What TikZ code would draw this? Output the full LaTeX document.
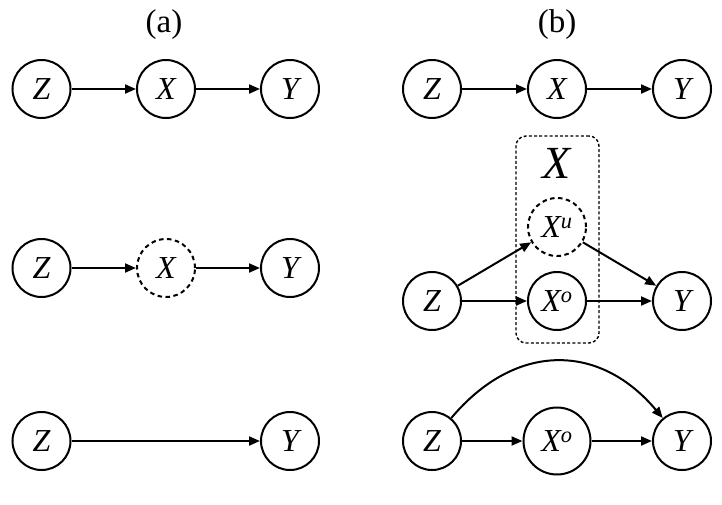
\documentclass[tikz,border=0pt]{standalone}
\usepackage{fontspec}
\setmainfont{Liberation Serif}
\usetikzlibrary{arrows.meta}
\begin{document}
\begin{tikzpicture}[x=1pt,y=-1pt,
  var/.style={circle,draw,line width=2pt,minimum size=58pt,inner sep=0pt,
    font=\fontsize{32}{36}\selectfont\itshape},
  hid/.style={var,dash pattern=on 4.5pt off 3.5pt},
  arr/.style={line width=2pt,-{Triangle[length=11pt,width=9pt]}},
  lab/.style={font=\fontsize{33}{36}\selectfont},
  grp/.style={draw,line width=1.4pt,dash pattern=on 3pt off 2.2pt,rounded corners=10pt}]
\useasboundingbox (0,0) rectangle (722,504);
% titles
\node[lab] (ta) at (164,25) {(a)};
\node[lab] (tb) at (557,25) {(b)};
% (a) row 1
\node[var] (az1) at (41.5,89) {Z};
\node[var] (ax1) at (166,89) {X};
\node[var] (ay1) at (290,89) {Y};
\draw[arr] (az1) -- (ax1);
\draw[arr] (ax1) -- (ay1);
% (a) row 2
\node[var] (az2) at (41.5,268) {Z};
\node[hid] (ax2) at (166,268) {X};
\node[var] (ay2) at (290,268) {Y};
\draw[arr] (az2) -- (ax2);
\draw[arr] (ax2) -- (ay2);
% (a) row 3
\node[var] (az3) at (41.5,441) {Z};
\node[var] (ay3) at (290,441) {Y};
\draw[arr] (az3) -- (ay3);
% (b) row 1
\node[var] (bz1) at (432,89) {Z};
\node[var] (bx1) at (557,89) {X};
\node[var] (by1) at (682,89) {Y};
\draw[arr] (bz1) -- (bx1);
\draw[arr] (bx1) -- (by1);
% (b) row 2
\node[grp,minimum width=83pt,minimum height=207pt] (box) at (557.5,239.5) {};
\node[font=\fontsize{46}{50}\selectfont\itshape] (bxl) at (557,163) {X};
\node[hid] (bxu) at (557,227) {X\textsuperscript{u}};
\node[var] (bxo) at (557,301) {X\textsuperscript{o}};
\node[var] (bz2) at (432,301) {Z};
\node[var] (by2) at (682,301) {Y};
\draw[arr] (bz2) -- (bxu);
\draw[arr] (bz2) -- (bxo);
\draw[arr] (bxu) -- (by2);
\draw[arr] (bxo) -- (by2);
% (b) row 3
\node[var] (bz3) at (432,441) {Z};
\node[var,minimum size=67pt] (bxo3) at (557,441) {X\textsuperscript{o}};
\node[var] (by3) at (682,441) {Y};
\draw[arr] (bz3) -- (bxo3);
\draw[arr] (bxo3) -- (by3);
\draw[arr] (bz3.50) to[out=50,in=130,looseness=1.2] (by3.130);
\end{tikzpicture}
\end{document}
